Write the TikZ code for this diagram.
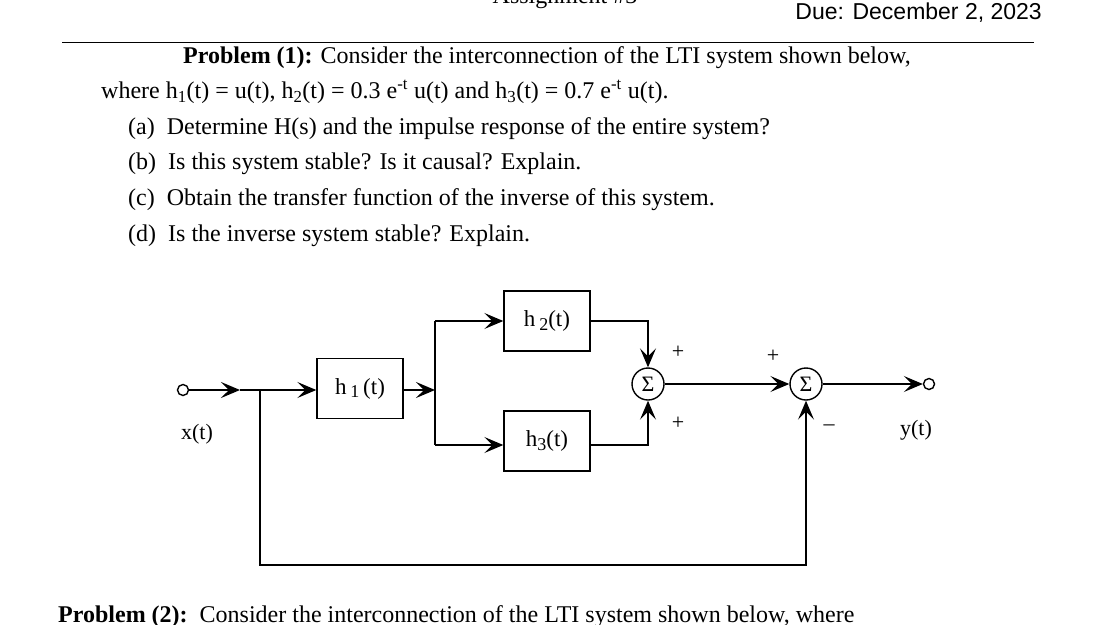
\documentclass[tikz,border=0pt]{standalone}
\usepackage{fontspec}
\setmainfont{Liberation Serif}
\newfontfamily\sansf{Liberation Sans}
\usetikzlibrary{arrows.meta}
\newcommand{\bsub}[1]{\raisebox{-0.35ex}{\fontsize{18}{20}\selectfont #1}}
\begin{document}
\begin{tikzpicture}[x=1pt,y=-1pt,
  every node/.style={inner sep=0pt},
  txt/.style={anchor=west,font=\fontsize{24}{28}\selectfont},
  blk/.style={draw,line width=1.4pt,minimum width=86pt,minimum height=60pt,font=\fontsize{23}{27}\selectfont},
  sm/.style={draw,circle,line width=1.4pt,minimum size=32pt,font=\fontsize{22}{26}\selectfont},
  ln/.style={line width=1.4pt},
  arr/.style={-{Stealth[length=19pt,width=16pt,inset=8pt]}},
  lab/.style={font=\fontsize{22}{26}\selectfont}]
\useasboundingbox (0,0) rectangle (1094,624);
\fill[white] (0,0) rectangle (1094,624);
% header
\node[txt,anchor=center] (hd) at (565,-2) {Assignment \#3};
\node[anchor=east,font=\sansf\fontsize{23}{27}\selectfont] (due) at (1042,13) {Due: December 2, 2023};
\draw[line width=0.8pt] (62,42) -- (1034,42);
\node[txt] (p1) at (183,58) {\textbf{Problem (1):} Consider the interconnection of the LTI system shown below,};
\node[txt] (p2) at (101,92) {where h\textsubscript{1}(t) = u(t), h\textsubscript{2}(t) = 0.3 e\textsuperscript{-t} u(t) and h\textsubscript{3}(t) = 0.7 e\textsuperscript{-t} u(t).};
\node[txt] (qa) at (128,129) {(a)\ \ Determine H(s) and the impulse response of the entire system?};
\node[txt] (qb) at (128,164) {(b)\ \ Is this system stable? Is it causal? Explain.};
\node[txt] (qc) at (128,200) {(c)\ \ Obtain the transfer function of the inverse of this system.};
\node[txt] (qd) at (128,236) {(d)\ \ Is the inverse system stable? Explain.};
\node[txt] (p3) at (58,617) {\textbf{Problem (2):}\ \ Consider the interconnection of the LTI system shown below, where};
% diagram
\node[draw,circle,ln,minimum size=11pt,fill=white] (in) at (183,390) {};
\coordinate (j) at (260,390);
\coordinate (m1) at (240,390);
\node[blk] (h1) at (360,388.5) {h\,\bsub{1}\,(t)};
\node[blk] (h2) at (547,321) {h\,\bsub{2}(t)};
\node[blk] (h3) at (547,441) {h\bsub{3}(t)};
\node[sm] (s1) at (648,384) {Σ};
\node[sm] (s2) at (806,384) {Σ};
\node[draw,circle,ln,minimum size=11pt] (out) at (929,384) {};
\coordinate (br) at (435,390);
\coordinate (ua) at (435,321);
\coordinate (la) at (435,445);
\draw[ln,arr] (in) -- (m1);
\draw[ln] (m1) -- (j);
\draw[ln,arr] (j) -- (h1.west|-j);
\draw[ln,arr] (h1.east|-br) -- (br);
\draw[ln] (ua) -- (la);
\draw[ln,arr] (ua) -- (h2.west|-ua);
\draw[ln,arr] (la) -- (h3.west|-la);
\draw[ln,arr] (h2.east|-ua) -| (s1.north);
\draw[ln,arr] (h3.east|-la) -| (s1.south);
\draw[ln,arr] (s1) -- (s2);
\draw[ln,arr] (s2) -- (out);
\coordinate (fb) at (260,565);
\draw[ln,arr] (j) -- (fb) -| (s2.south);
\node[lab] (x) at (197,434) {x(t)};
\node[lab] (y) at (916,430) {y(t)};
\node[lab] (pa) at (678,352) {+};
\node[lab] (pb) at (678,423) {+};
\node[lab] (pc) at (773,356) {+};
\node[lab] (mn) at (829,428) {--};
\end{tikzpicture}
\end{document}
